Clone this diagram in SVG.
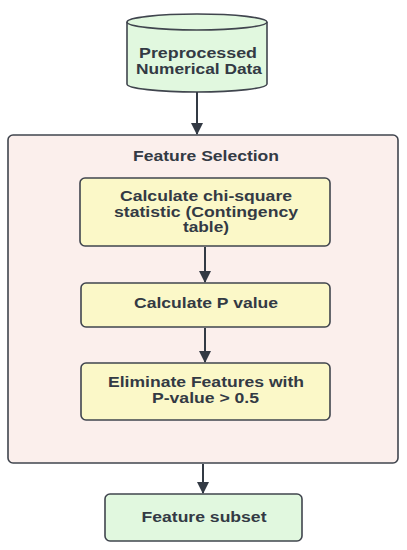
<svg xmlns="http://www.w3.org/2000/svg" width="407" height="550" viewBox="0 0 407 550">
<style>
text{font-family:"Liberation Sans",Arial,sans-serif;font-weight:bold;font-size:14px;fill:#333a44;text-anchor:middle}
.box{stroke:#40454e;stroke-width:1.6}
.y{fill:#fbf8c8}
.g{fill:#e1f8df}
.edge{stroke:#333a44;stroke-width:2;fill:none;marker-end:url(#ah)}
</style>
<defs>
<marker id="ah" markerWidth="12" markerHeight="12" refX="11" refY="6" orient="auto" markerUnits="userSpaceOnUse">
<path d="M0,0 L12,6 L0,12 Z" fill="#333a44"/>
</marker>
</defs>
<rect width="407" height="550" fill="#ffffff"/>
<g id="feature-selection">
<rect class="box" x="8" y="135" width="390" height="328" rx="5" fill="#fbefec"/>
<text x="206" y="161" textLength="146" lengthAdjust="spacingAndGlyphs">Feature Selection</text>
</g>
<g id="data">
<path class="box g" d="M127,22 L127,84 A70,8 0 0 0 267,84 L267,22 A70,8 0 0 0 127,22 Z"/>
<path class="box" fill="none" d="M127,22 A70,8 0 0 0 267,22"/>
<text x="198" y="58" textLength="118" lengthAdjust="spacingAndGlyphs">Preprocessed</text>
<text x="199" y="74" textLength="126" lengthAdjust="spacingAndGlyphs">Numerical Data</text>
</g>
<g id="chi">
<rect class="box y" x="80" y="178" width="250" height="68" rx="5"/>
<text x="206" y="201" textLength="172" lengthAdjust="spacingAndGlyphs">Calculate chi-square</text>
<text x="206" y="216.5" textLength="184" lengthAdjust="spacingAndGlyphs">statistic (Contingency</text>
<text x="206" y="232" textLength="46" lengthAdjust="spacingAndGlyphs">table)</text>
</g>
<g id="pvalue">
<rect class="box y" x="81" y="283" width="249" height="44" rx="5"/>
<text x="206" y="308" textLength="144" lengthAdjust="spacingAndGlyphs">Calculate P value</text>
</g>
<g id="eliminate">
<rect class="box y" x="81" y="363" width="249" height="57" rx="5"/>
<text x="206" y="387" textLength="196" lengthAdjust="spacingAndGlyphs">Eliminate Features with</text>
<text x="205.5" y="403" textLength="107" lengthAdjust="spacingAndGlyphs">P-value &gt; 0.5</text>
</g>
<g id="subset">
<rect class="box g" x="105" y="494" width="197" height="47" rx="5"/>
<text x="204" y="522" textLength="125" lengthAdjust="spacingAndGlyphs">Feature subset</text>
</g>
<g id="connectors">
<line class="edge" x1="197" y1="92" x2="197" y2="134"/>
<line class="edge" x1="205" y1="247" x2="205" y2="282"/>
<line class="edge" x1="205" y1="328" x2="205" y2="362"/>
<line class="edge" x1="203" y1="464" x2="203" y2="493"/>
</g>
</svg>
